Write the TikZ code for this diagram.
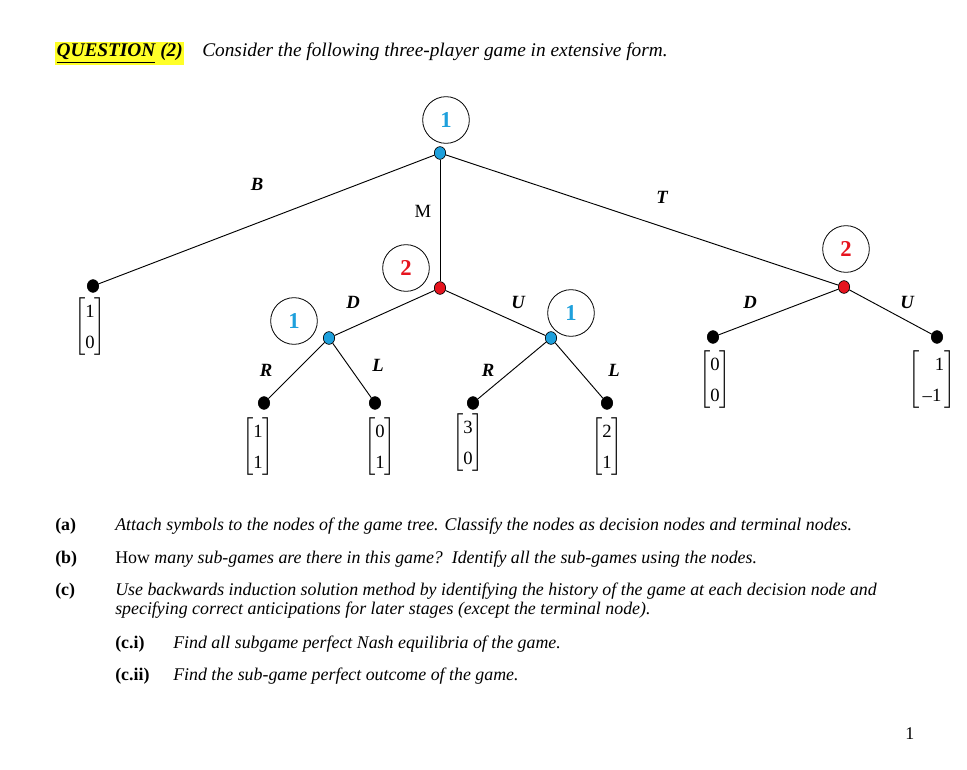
\documentclass[tikz,border=0pt]{standalone}
\usepackage{amsmath}
\usepackage{fontspec}
\setmainfont{Liberation Serif}
\usetikzlibrary{shapes.geometric}
\definecolor{pblue}{RGB}{30,160,220}
\definecolor{pred}{RGB}{230,20,30}
\definecolor{hl}{RGB}{255,255,40}
\tikzset{
 dn/.style={ellipse,draw=black,line width=0.5pt,inner sep=0,minimum width=8.5pt,minimum height=9.5pt},
 bd/.style={dn,fill=pblue}, rd/.style={dn,fill=pred}, kd/.style={dn,fill=black},
 pc/.style={circle,draw,line width=0.6pt,minimum size=35pt,inner sep=0,font=\fontsize{17}{17}\selectfont\bfseries},
 lab/.style={font=\fontsize{14}{14}\selectfont\bfseries\itshape},
 vec/.style={font=\fontsize{14}{17}\selectfont},
 edge/.style={line width=0.7pt},
 txt/.style={anchor=base west,font=\fontsize{13.4}{14}\selectfont,inner sep=0},
}
\renewcommand{\arraystretch}{1.35}
\begin{document}
\begin{tikzpicture}[x=0.75pt,y=-0.75pt]
\useasboundingbox (0,0) rectangle (967,770);
% header
\node[anchor=base west,inner sep=1pt,fill=hl,font=\fontsize{14.5}{15}\selectfont\bfseries\itshape] (q) at (55,57) {\underline{QUESTION} (2)};
\node[txt,font=\fontsize{14.5}{15}\selectfont\itshape] (qt) at (202,57) {Consider the following three-player game in extensive form.};
% nodes
\node[bd] (r) at (440,153) {};
\node[kd] (b) at (93,286) {};
\node[rd] (m) at (440,288) {};
\node[rd] (t) at (844,287) {};
\node[bd] (p1) at (329,338) {};
\node[bd] (p2) at (551,338) {};
\node[kd] (l1) at (264,403) {};
\node[kd] (l2) at (375,403) {};
\node[kd] (l3) at (473,403) {};
\node[kd] (l4) at (607,403) {};
\node[kd] (l5) at (713,337) {};
\node[kd] (l6) at (937,337) {};
% edges
\draw[edge] (r)--(b); \draw[edge] (r)--(m); \draw[edge] (r)--(t);
\draw[edge] (m)--(p1); \draw[edge] (m)--(p2);
\draw[edge] (p1)--(l1); \draw[edge] (p1)--(l2);
\draw[edge] (p2)--(l3); \draw[edge] (p2)--(l4);
\draw[edge] (t)--(l5); \draw[edge] (t)--(l6);
% player circles
\node[pc,text=pblue] (c1) at (446,120) {1};
\node[pc,text=pred] (c2) at (406,268) {2};
\node[pc,text=pred] (c3) at (846,249) {2};
\node[pc,text=pblue] (c4) at (294,321) {1};
\node[pc,text=pblue] (c5) at (571,313) {1};
% labels
\node[lab] (lb) at (257,184) {B};
\node[font=\fontsize{14}{14}\selectfont] (lm) at (423,211) {M};
\node[lab] (lt) at (662,197) {T};
\node[lab] (ld1) at (353,302) {D};
\node[lab] (lu1) at (518,302) {U};
\node[lab] (lr1) at (266,370) {R};
\node[lab] (ll1) at (378,365) {L};
\node[lab] (lr2) at (488,370) {R};
\node[lab] (ll2) at (614,370) {L};
\node[lab] (ld2) at (750,302) {D};
\node[lab] (lu2) at (907,302) {U};
% payoffs
\node[vec] (v0) at (90,327) {$\begin{bmatrix}\text{1}\\\text{0}\end{bmatrix}$};
\node[vec] (v1) at (258,447) {$\begin{bmatrix}\text{1}\\\text{1}\end{bmatrix}$};
\node[vec] (v2) at (380,447) {$\begin{bmatrix}\text{0}\\\text{1}\end{bmatrix}$};
\node[vec] (v3) at (468,443) {$\begin{bmatrix}\text{3}\\\text{0}\end{bmatrix}$};
\node[vec] (v4) at (607,447) {$\begin{bmatrix}\text{2}\\\text{1}\end{bmatrix}$};
\node[vec] (v5) at (715,380) {$\begin{bmatrix}\text{0}\\\text{0}\end{bmatrix}$};
\node[vec] (v6) at (932,380) {$\begin{bmatrix}\hphantom{-}\text{1}\\\text{--1}\end{bmatrix}$};
% questions
\node[txt,font=\fontsize{13.4}{14}\selectfont\bfseries] (a) at (55,530) {(a)};
\node[txt,font=\fontsize{13.4}{14}\selectfont\itshape] (at) at (115,530) {Attach symbols to the nodes of the game tree. Classify the nodes as decision nodes and terminal nodes.};
\node[txt,font=\fontsize{13.4}{14}\selectfont\bfseries] (bb) at (55,563) {(b)};
\node[txt] (bt) at (115,563) {How \textit{many sub-games are there in this game?\ \ Identify all the sub-games using the nodes.}};
\node[txt,font=\fontsize{13.4}{14}\selectfont\bfseries] (c) at (55,595) {(c)};
\node[txt,font=\fontsize{13.4}{14}\selectfont\itshape] (ct) at (115,595) {Use backwards induction solution method by identifying the history of the game at each decision node and};
\node[txt,font=\fontsize{13.4}{14}\selectfont\itshape] (ct2) at (115,614) {specifying correct anticipations for later stages (except the terminal node).};
\node[txt,font=\fontsize{13.4}{14}\selectfont\bfseries] (ci) at (115,648) {(c.i)};
\node[txt,font=\fontsize{13.4}{14}\selectfont\itshape] (cit) at (173,648) {Find all subgame perfect Nash equilibria of the game.};
\node[txt,font=\fontsize{13.4}{14}\selectfont\bfseries] (cii) at (115,680) {(c.ii)};
\node[txt,font=\fontsize{13.4}{14}\selectfont\itshape] (ciit) at (173,680) {Find the sub-game perfect outcome of the game.};
\node[txt] (pg) at (905,739) {1};
\end{tikzpicture}
\end{document}
